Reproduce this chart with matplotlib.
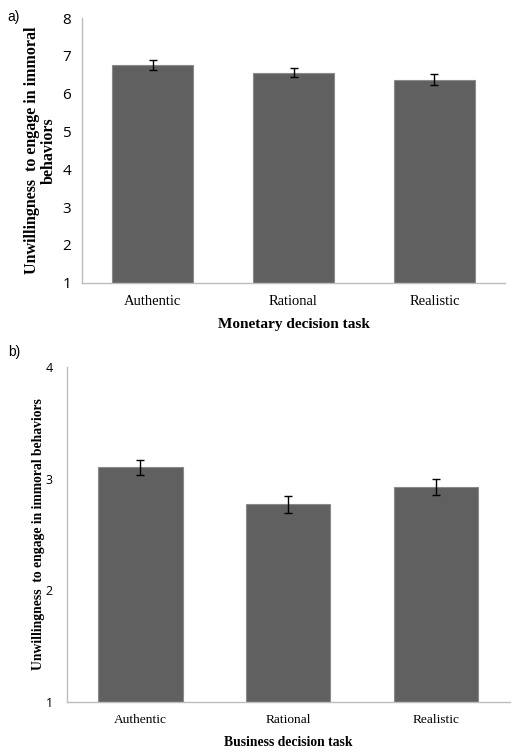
import matplotlib.pyplot as plt
import numpy as np

categories = ["Authentic", "Rational", "Realistic"]

monetary_means = [6.76, 6.56, 6.37]
monetary_errors = [0.14, 0.13, 0.15]

business_means = [3.10, 2.77, 2.92]
business_errors = [0.07, 0.075, 0.072]

bar_color = "#606060"
edge_color = "#8a8a8a"
spine_color = "#bdbdbd"
serif = "Liberation Serif"
sans = "Open Sans"


def draw_panel(ax, means, errors, ylim, yticks, xlabel, ylabel,
               tick_size, cat_size, label_size, ylabel_size, ytickpad, ylabelpad):
    x = np.arange(len(categories))
    ax.bar(
        x,
        means,
        width=0.57,
        color=bar_color,
        edgecolor=edge_color,
        linewidth=0.8,
        zorder=2,
    )
    ax.errorbar(
        x,
        means,
        yerr=errors,
        fmt="none",
        ecolor="black",
        elinewidth=1.0,
        capsize=3,
        capthick=1.0,
        zorder=3,
    )
    ax.set_xlim(-0.5, len(categories) - 0.5)
    ax.set_ylim(*ylim)
    ax.set_yticks(yticks)
    ax.set_yticklabels([str(t) for t in yticks], fontfamily=sans, fontsize=tick_size)
    ax.set_xticks(x)
    ax.set_xticklabels(categories, fontfamily=serif, fontsize=cat_size)
    ax.tick_params(axis="x", length=0, pad=9)
    ax.tick_params(axis="y", length=0, pad=ytickpad)
    for side in ["top", "right"]:
        ax.spines[side].set_visible(False)
    for side in ["left", "bottom"]:
        ax.spines[side].set_color(spine_color)
        ax.spines[side].set_linewidth(1.0)
    ax.set_xlabel(xlabel, fontfamily=serif, fontweight="bold", fontsize=label_size,
                  labelpad=7)
    ax.set_ylabel(ylabel, fontfamily=serif, fontweight="bold", fontsize=ylabel_size,
                  linespacing=1.05, labelpad=ylabelpad)


fig = plt.figure(figsize=(5.2, 7.52), dpi=100)

ax_top = fig.add_axes([0.158, 0.624, 0.813, 0.352])
draw_panel(
    ax_top,
    monetary_means,
    monetary_errors,
    (1, 8),
    [1, 2, 3, 4, 5, 6, 7, 8],
    "Monetary decision task",
    "Unwillingness  to engage in immoral\nbehaviors",
    tick_size=11,
    cat_size=10.5,
    label_size=11,
    ylabel_size=11.5,
    ytickpad=8,
    ylabelpad=4,
)

ax_bot = fig.add_axes([0.128, 0.067, 0.853, 0.445])
draw_panel(
    ax_bot,
    business_means,
    business_errors,
    (1, 4),
    [1, 2, 3, 4],
    "Business decision task",
    "Unwillingness  to engage in immoral behaviors",
    tick_size=9,
    cat_size=9.6,
    label_size=9.8,
    ylabel_size=9.8,
    ytickpad=10,
    ylabelpad=0,
)

fig.text(0.015, 0.977, "a)", fontfamily="Liberation Sans", fontsize=10, va="center")
fig.text(0.015, 0.532, "b)", fontfamily="Liberation Sans", fontsize=10, va="center")

fig.savefig("out.png", dpi=100)
